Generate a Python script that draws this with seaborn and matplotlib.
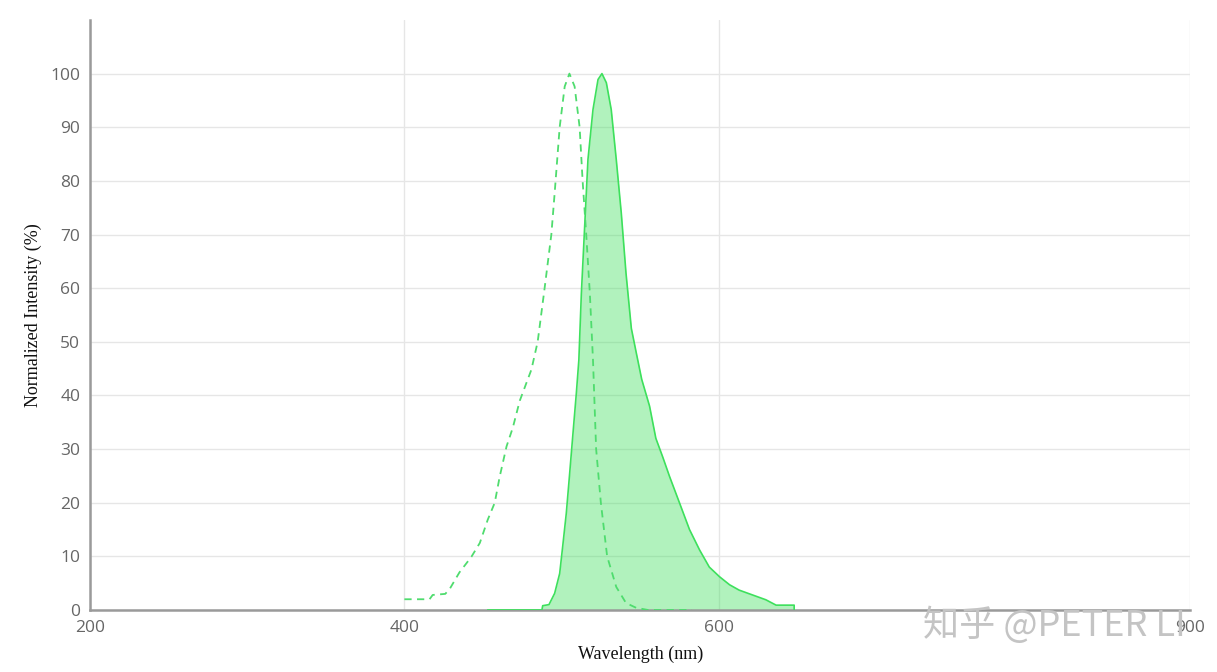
import matplotlib
matplotlib.use("Agg")
import matplotlib.pyplot as plt
import seaborn as sns
import pandas as pd

# excitation spectrum (dashed)
ex_nm = [400, 416, 418, 426, 429, 435, 442.6, 448, 453, 457.5, 460.6, 465, 469,
         473.4, 477.6, 480.8, 484.8, 489, 493.5, 495.6, 498.8, 502, 505, 508.3,
         511.5, 513.4, 515.7, 518, 520, 522, 525, 529, 534.8, 541, 547.5, 555, 583]
ex_val = [2, 2, 2.8, 3, 4, 7, 9.9, 12.5, 16.8, 20, 24.8, 30.5, 34,
          39, 42.3, 44.8, 50, 59.5, 70, 77.7, 90, 97.6, 100, 97.6,
          90, 80, 70, 59, 46.6, 30, 20, 10, 4.3, 1.3, 0.4, 0, 0]

# emission spectrum (filled)
em_nm = [453, 487.5, 488, 492, 495.6, 498.8, 500.7, 503, 505, 507, 509.4, 511,
         512.6, 514.7, 516.8, 520, 523.2, 525.7, 528.5, 531.6, 534.8, 538, 541,
         544.4, 547.5, 551, 556, 560, 564.4, 568.7, 575, 581.4, 587.8, 594, 600.5,
         606.9, 613, 621.5, 630, 636.5, 648, 648]
em_val = [0, 0, 0.8, 1, 3.1, 6.8, 11.8, 18, 24.9, 32, 40.4, 46.6,
          59, 71.5, 84, 93.3, 98.9, 100, 98.3, 93.3, 84, 74, 62.8,
          52.5, 48, 43, 38, 32, 28.5, 24.9, 20, 15, 11.2, 8, 6.2,
          4.7, 3.7, 2.8, 1.9, 0.9, 0.9, 0]

x_ticks = [200, 400, 600, 900]
y_ticks = list(range(0, 101, 10))

ex = pd.DataFrame({"nm": ex_nm, "val": ex_val})
em = pd.DataFrame({"nm": em_nm, "val": em_val})

sns.set_style("white")
green = "#3de05c"

fig = plt.figure(figsize=(12.17, 6.72), dpi=100)
ax = fig.add_axes([0.074, 0.0923, 0.904, 0.878])

ax.fill_between(em["nm"], em["val"], 0, color=green, alpha=0.4, linewidth=0, zorder=2)
sns.lineplot(data=em, x="nm", y="val", color=green, linewidth=1.2, ax=ax,
             sort=False, estimator=None, zorder=3)
sns.lineplot(data=ex, x="nm", y="val", color="#4fdc6e", linewidth=1.3, ax=ax,
             sort=False, estimator=None, zorder=3)
ax.lines[-1].set_dashes((4, 3))

ax.set_xlim(200, 900)
ax.set_ylim(0, 110)
ax.set_xticks(x_ticks)
ax.set_yticks(y_ticks)
ax.grid(True, color="#e6e6e6", linewidth=1, zorder=0)
ax.set_axisbelow(True)

for s in ["top", "right"]:
    ax.spines[s].set_visible(False)
for s in ["left", "bottom"]:
    ax.spines[s].set_color("#9a9a9a")
    ax.spines[s].set_linewidth(1.8)

ax.tick_params(axis="both", length=6, width=1, color="#9a9a9a",
               labelcolor="#666666", labelsize=12.5, pad=1)
for lab in ax.get_xticklabels() + ax.get_yticklabels():
    lab.set_family("Open Sans")

ax.set_xlabel("Wavelength (nm)", family="Liberation Serif", fontsize=13,
              color="#111111", labelpad=7)
ax.set_ylabel("Normalized Intensity (%)", family="Liberation Serif", fontsize=13,
              color="#111111", labelpad=6)

# watermark
fig.text(0.866, 0.07, "知乎 @PETER LI", family=["Noto Sans CJK SC", "DejaVu Sans"],
         fontsize=26, color="#c4c4c4", ha="center", va="center", zorder=10)

fig.savefig("out.png", dpi=100)
